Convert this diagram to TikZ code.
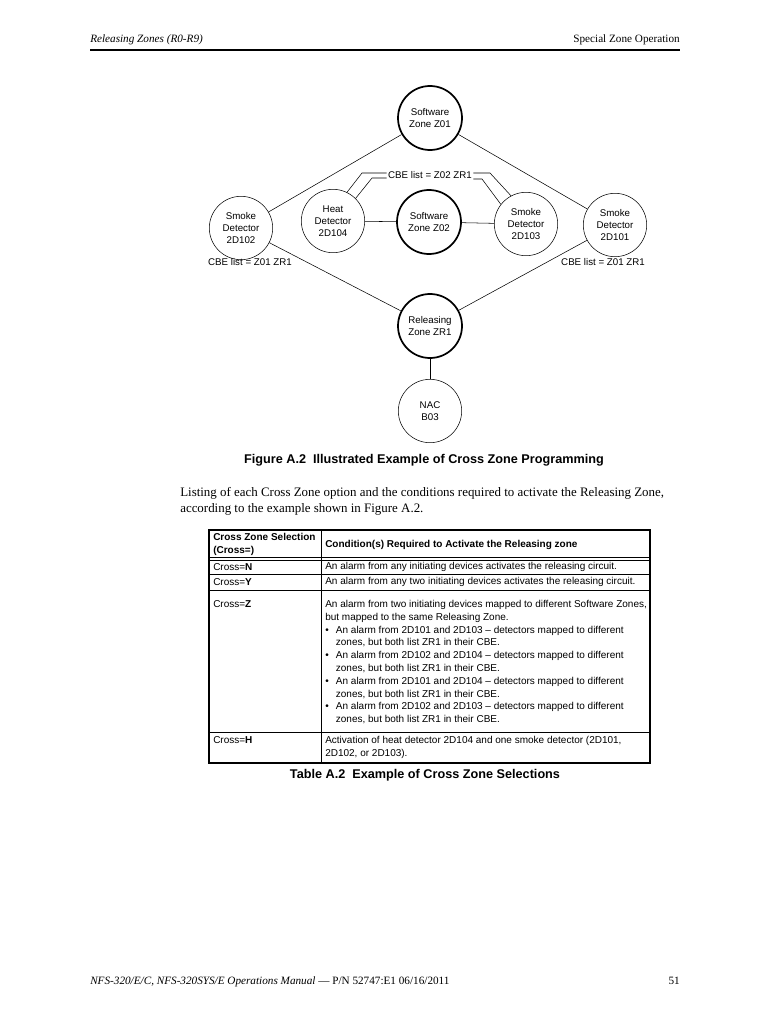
\documentclass[tikz,border=0pt]{standalone}
\usepackage{fontspec}
\setmainfont{Liberation Serif}
\setsansfont{Liberation Sans}
\newcommand{\bitem}[1]{\makebox[8pt][l]{•}#1}
\newcommand{\bcont}[1]{\hspace*{8pt}#1}
\begin{document}
\begin{tikzpicture}[x=0.75pt,y=-0.75pt,
  dev/.style={circle, draw, line width=0.4pt, minimum size=47.5pt, inner sep=0pt, align=center, font=\sffamily\fontsize{7.3}{9.2}\selectfont},
  zone/.style={dev, line width=1.3pt, minimum size=48pt},
  lbl/.style={inner sep=1pt, font=\sffamily\fontsize{7.3}{9}\selectfont},
  cell/.style={anchor=north west, align=left, inner sep=0pt, font=\sffamily\fontsize{7.5}{9.6}\selectfont},
  captext/.style={font=\sffamily\bfseries\fontsize{9.5}{11}\selectfont}]
\useasboundingbox (0,0) rectangle (768,1024);
\node[anchor=base west, inner sep=0pt, font=\itshape\fontsize{8.4}{10}\selectfont] (hl) at (90,43) {Releasing Zones (R0-R9)};
\node[anchor=base east, inner sep=0pt, font=\fontsize{8.4}{10}\selectfont] (hr) at (680,43) {Special Zone Operation};
\draw[line width=1pt] (90,50) -- (680,50);

\node[zone] (z01) at (430,118) {Software\\Zone Z01};
\node[dev] (d102) at (241,228) {Smoke\\Detector\\2D102};
\node[dev] (d104) at (333,221) {Heat\\Detector\\2D104};
\node[zone] (z02) at (429,222) {Software\\Zone Z02};
\node[dev] (d103) at (526,224) {Smoke\\Detector\\2D103};
\node[dev] (d101) at (615,225) {Smoke\\Detector\\2D101};
\node[zone] (zr1) at (430,326) {Releasing\\Zone ZR1};
\node[dev] (nac) at (430,411) {NAC\\B03};
\node[lbl] (cbe1) at (250,262) {CBE list = Z01 ZR1};
\node[lbl] (cbe2) at (603,262) {CBE list = Z01 ZR1};
\node[lbl] (cbe3) at (430,175) {CBE list = Z02 ZR1};
\draw[](z01) -- (d102);
\draw[](z01) -- (d101);
\draw[](d104) -- (z02);
\draw[](z02) -- (d103);
\draw[](d102) -- (zr1);
\draw[](d101) -- (zr1);
\draw[](zr1) -- (nac);
\coordinate (b1) at (362,173);
\coordinate (b2) at (372,178);
\coordinate (b3) at (490,173);
\coordinate (b4) at (482,179);
\draw[](d104.64) -- (b1) -- (cbe3.west |- b1);
\draw[](d104.45) -- (b2) -- (cbe3.west |- b2);
\draw[](cbe3.east |- b3) -- (b3) -- (d103.118);
\draw[](cbe3.east |- b4) -- (b4) -- (d103.142);
\node[captext] (figcap) at (424,460) {Figure A.2\ \ Illustrated Example of Cross Zone Programming};

\node[anchor=base west, align=left, inner sep=0pt, font=\fontsize{9.7}{12}\selectfont] (para) at (180,512) {Listing of each Cross Zone option and the conditions required to activate the Releasing Zone,\\according to the example shown in Figure A.2.};

\draw[line width=0.9pt] (209,530) rectangle (650,763);
\draw[line width=0.7pt] (321,530) -- (321,763);
\draw[line width=0.5pt] (209,557.5) -- (650,557.5);
\draw[line width=0.5pt] (209,560.5) -- (650,560.5);
\draw[line width=0.6pt] (209,574.5) -- (650,574.5);
\draw[line width=0.6pt] (209,590) -- (650,590);
\draw[line width=0.6pt] (209,732) -- (650,732);
\node[cell, font=\sffamily\bfseries\fontsize{7.5}{9.6}\selectfont] (thd1) at (213,533) {Cross Zone Selection\\(Cross=)};
\node[cell, anchor=west, font=\sffamily\bfseries\fontsize{7.5}{9.6}\selectfont] (thd2) at (325,545) {Condition(s) Required to Activate the Releasing zone};
\node[cell, anchor=west] (tn1) at (213,567) {Cross=\textbf{N}};
\node[cell, anchor=west] (tn2) at (325,567) {An alarm from any initiating devices activates the releasing circuit.};
\node[cell, anchor=west] (ty1) at (213,582) {Cross=\textbf{Y}};
\node[cell, anchor=west] (ty2) at (325,582) {An alarm from any two initiating devices activates the releasing circuit.};
\node[cell] (tz1) at (213,600) {Cross=\textbf{Z}};
\node[cell] (tz2) at (325,600) {An alarm from two initiating devices mapped to different Software Zones,\\
but mapped to the same Releasing Zone.\\
\bitem{An alarm from 2D101 and 2D103 – detectors mapped to different}\\
\bcont{zones, but both list ZR1 in their CBE.}\\
\bitem{An alarm from 2D102 and 2D104 – detectors mapped to different}\\
\bcont{zones, but both list ZR1 in their CBE.}\\
\bitem{An alarm from 2D101 and 2D104 – detectors mapped to different}\\
\bcont{zones, but both list ZR1 in their CBE.}\\
\bitem{An alarm from 2D102 and 2D103 – detectors mapped to different}\\
\bcont{zones, but both list ZR1 in their CBE.}};
\node[cell] (th1) at (213,736) {Cross=\textbf{H}};
\node[cell] (th2) at (325,736) {Activation of heat detector 2D104 and one smoke detector (2D101,\\2D102, or 2D103).};
\node[captext] (tabcap) at (425,775) {Table A.2\ \ Example of Cross Zone Selections};

\node[anchor=base west, inner sep=0pt, font=\fontsize{8.4}{10}\selectfont] (foot) at (90,984) {\textit{NFS-320/E/C, NFS-320SYS/E Operations Manual} — P/N 52747:E1 06/16/2011};
\node[anchor=base east, inner sep=0pt, font=\fontsize{8.4}{10}\selectfont] (pg) at (680,984) {51};
\end{tikzpicture}
\end{document}
